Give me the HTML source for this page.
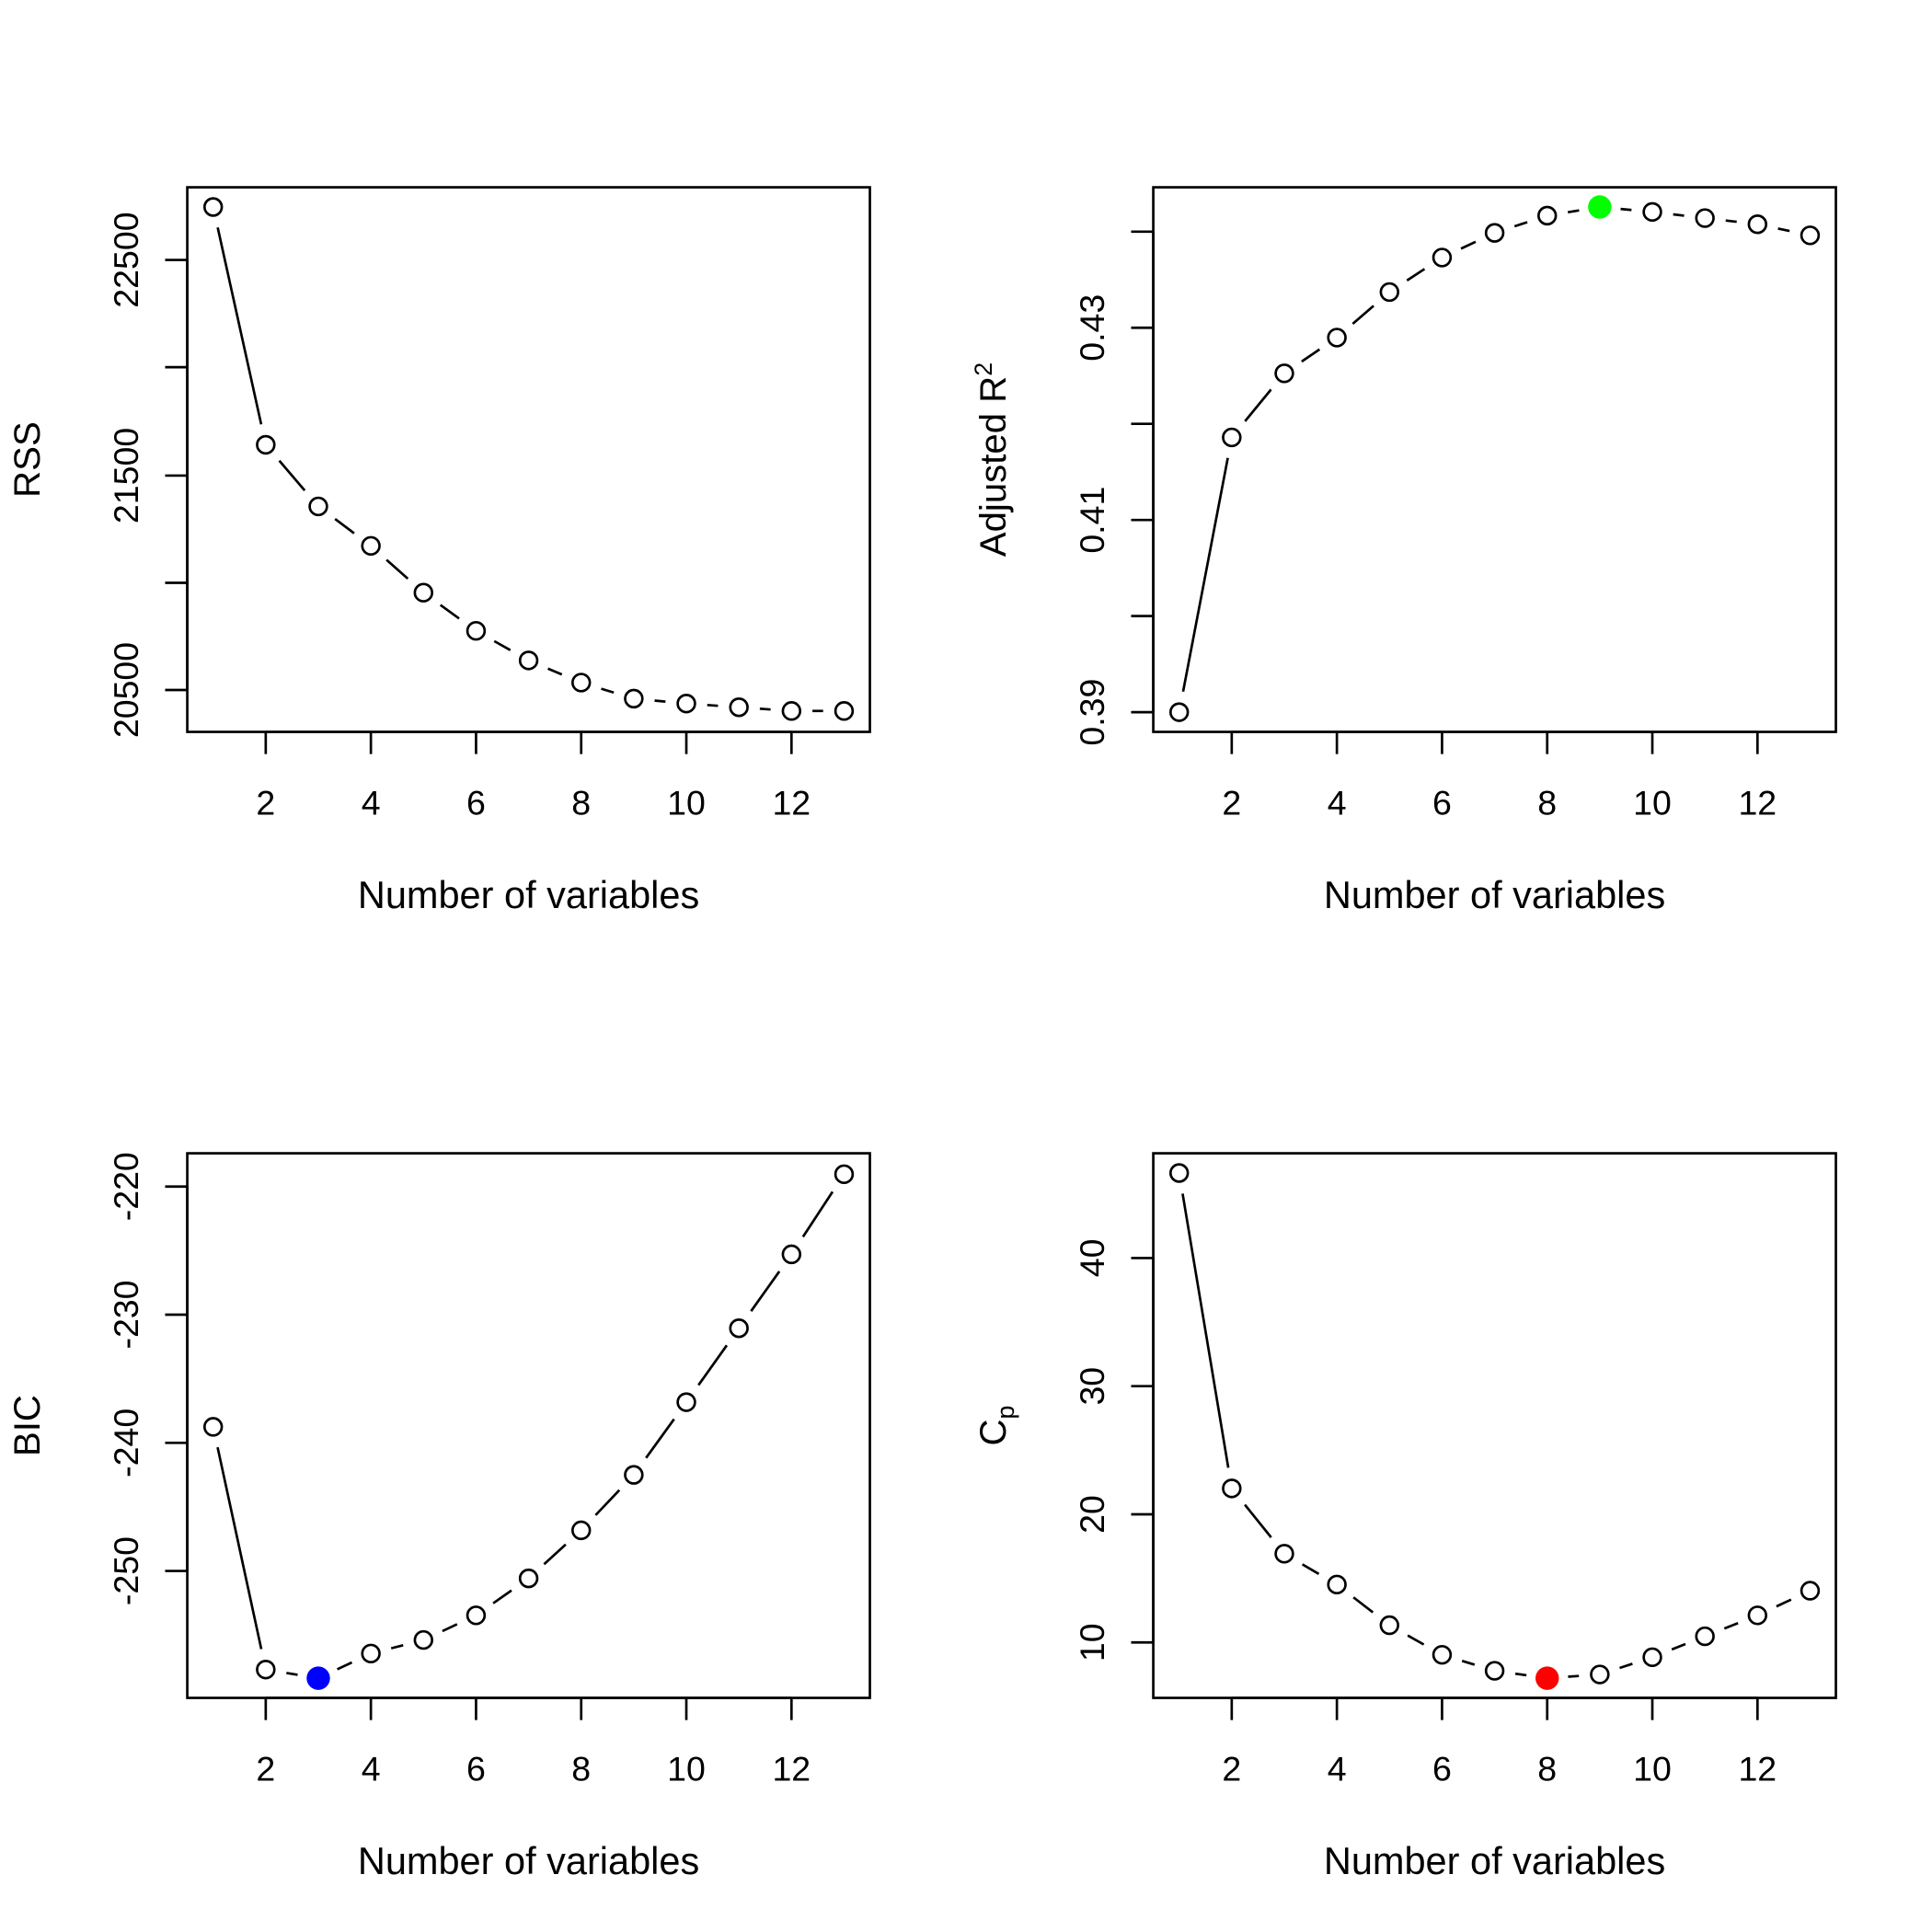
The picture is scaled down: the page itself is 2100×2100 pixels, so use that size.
<!DOCTYPE html>
<html><head><meta charset="utf-8"><style>html,body{margin:0;padding:0;background:#fff}svg{display:block}</style></head>
<body>
<svg id="s" xmlns="http://www.w3.org/2000/svg" width="2100" height="2100" viewBox="0 0 1568 1568" font-family="Liberation Sans, sans-serif" font-size="28"></svg>
<script>
const s=document.getElementById('s');let h='';
function panel(x0,y0,ptsY,yt,ylab,hi,hiCol){
 const x1=x0+554,y1=y0+442;
 h+=`<rect x="${x0}" y="${y0}" width="554" height="442" fill="none" stroke="#000" stroke-width="2"/>`;
 const X=i=>x0+21+(i-1)*42.67;
 for(let i=2;i<=12;i+=2){h+=`<line x1="${X(i)}" y1="${y1}" x2="${X(i)}" y2="${y1+18}" stroke="#000" stroke-width="2"/><text x="${X(i)}" y="${y1+67}" text-anchor="middle">${i}</text>`;}
 h+=`<line x1="${X(2)}" y1="${y1}" x2="${X(12)}" y2="${y1}" stroke="#000" stroke-width="2"/>`;
 yt.forEach(t=>{h+=`<line x1="${x0}" y1="${t[0]}" x2="${x0-18}" y2="${t[0]}" stroke="#000" stroke-width="2"/>`;if(t[1])h+=`<text transform="translate(${x0-40},${t[0]}) rotate(-90)" text-anchor="middle">${t[1]}</text>`;});
 h+=`<line x1="${x0}" y1="${yt[0][0]}" x2="${x0}" y2="${yt[yt.length-1][0]}" stroke="#000" stroke-width="2"/>`;
 h+=`<text x="${x0+277}" y="${y1+143}" text-anchor="middle" font-size="31">Number of variables</text>`;
 h+=`<text transform="translate(${x0-120},${y0+221}) rotate(-90)" text-anchor="middle" font-size="30">${ylab}</text>`;
 for(let i=1;i<13;i++){const ax=X(i),ay=ptsY[i-1],bx=X(i+1),by=ptsY[i];const dx=bx-ax,dy=by-ay,L=Math.hypot(dx,dy),g=17;if(L>2*g+1){h+=`<line x1="${ax+dx*g/L}" y1="${ay+dy*g/L}" x2="${bx-dx*g/L}" y2="${by-dy*g/L}" stroke="#000" stroke-width="2"/>`;}}
 ptsY.forEach((y,i)=>{h+=`<circle cx="${X(i+1)}" cy="${y}" r="7" fill="none" stroke="#000" stroke-width="2"/>`;});
 if(hi)h+=`<circle cx="${X(hi)}" cy="${ptsY[hi-1]}" r="9.5" fill="${hiCol}"/>`;
}
panel(152,152,[168,361,411,443,481,512,536,554,567,571,574,577,577],[[211,'22500'],[298,''],[386,'21500'],[473,''],[560,'20500']],'RSS');
panel(936,152,[578,355,303,274,237,209,189,175,168,172,177,182,191],[[578,'0.39'],[500,''],[422,'0.41'],[344,''],[266,'0.43'],[188,'']],'Adjusted R<tspan font-size="20" dy="-11">2</tspan>',9,'#00ff00');
panel(152,936,[1158,1355,1362,1342,1331,1311,1281,1242,1197,1138,1078,1018,953],[[963,'-220'],[1067,'-230'],[1171,'-240'],[1275,'-250']],'BIC',3,'#0000ff');
panel(936,936,[952,1208,1261,1286,1319,1343,1356,1362,1359,1345,1328,1311,1291],[[1021,'40'],[1125,'30'],[1229,'20'],[1333,'10']],'C<tspan font-size="20" dy="7">p</tspan>',8,'#ff0000');
s.innerHTML=h;
</script>
</body></html>
